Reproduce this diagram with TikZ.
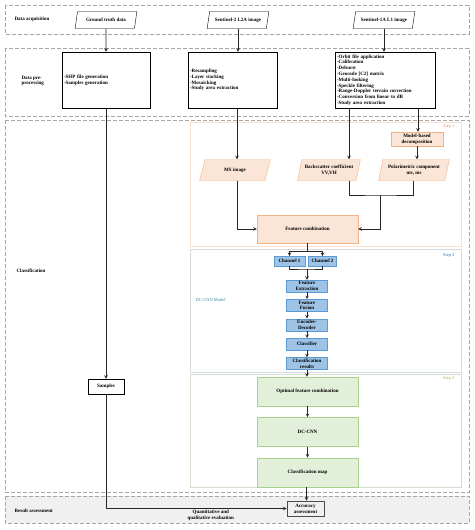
\documentclass[tikz,border=0pt]{standalone}
\usepackage{fontspec}
\setmainfont{Liberation Serif}
\usepackage{xcolor}
\usetikzlibrary{positioning,shapes.geometric}

\definecolor{OrangeFill}{HTML}{FBE5D6}
\definecolor{OrangeLine}{HTML}{F4B183}
\definecolor{OrangeFrame}{HTML}{F8E0D0}
\definecolor{OrangeText}{HTML}{E8956A}
\definecolor{BlueFill}{HTML}{9DC3E6}
\definecolor{BlueLine}{HTML}{5B9BD5}
\definecolor{BlueFrame}{HTML}{D3DAE2}
\definecolor{BlueText}{HTML}{2E75B6}
\definecolor{TealText}{HTML}{3A8FA0}
\definecolor{GreenFill}{HTML}{E2F0D9}
\definecolor{GreenLine}{HTML}{A9D18E}
\definecolor{GreenFrame}{HTML}{D5DFCF}
\definecolor{GreenText}{HTML}{8CBF6A}

\begin{document}
\begin{tikzpicture}[x=1pt,y=-1pt,
	font=\fontsize{5}{5.8}\selectfont\bfseries,
	band/.style={draw=gray!70, dashed, dash pattern=on 4pt off 2pt, line width=0.6pt},
	datain/.style={draw, trapezium, trapezium left angle=72, trapezium right angle=108,
		trapezium stretches=true, minimum width=62, minimum height=17, inner sep=1pt},
	prepbox/.style={draw, align=left, inner xsep=2pt, inner ysep=1pt},
	orangebox/.style={draw=OrangeLine, fill=OrangeFill, align=center, inner sep=1pt},
	orangein/.style={datain, draw=OrangeLine, fill=OrangeFill, align=center,
		minimum width=71, minimum height=21},
	bluebox/.style={draw=BlueLine, fill=BlueFill, align=center, inner sep=0.5pt},
	greenbox/.style={draw=GreenLine, fill=GreenFill, minimum width=101, minimum height=29},
	link/.style={draw=black!85, line width=0.6pt},
	flow/.style={link, -stealth}
]
\useasboundingbox (0,0) rectangle (474,530);

% Bands
\draw[band] (5,5) rectangle (469,34);
\draw[band] (5,48) rectangle (469,116);
\draw[band] (5,120) rectangle (469,492);
\draw[band, fill=gray!12] (5,496) rectangle (469,523);

\node[anchor=west] (acqlabel) at (11,19) {Data acquisition};
\node[anchor=west, align=left] (preplabel) at (18,81) {Data pre-\\processing};
\node[anchor=west] (classlabel) at (13,271) {Classification};
\node[anchor=west] (resultlabel) at (11,511) {Result assessment};

% Step frames
\draw[OrangeFrame, line width=0.6pt] (190,122) rectangle (461,246);
\draw[BlueFrame, line width=0.6pt] (190,249) rectangle (461,372);
\draw[GreenFrame, line width=0.6pt] (190,374) rectangle (461,487);

\node[anchor=east, font=\fontsize{4.5}{5}\selectfont, text=OrangeText] (step1) at (458,126) {Step 1};
\node[anchor=east, font=\fontsize{4.5}{5}\selectfont, text=BlueText] (step2) at (458,255) {Step 2};
\node[anchor=east, font=\fontsize{4.5}{5}\selectfont, text=GreenText] (step3) at (458,378) {Step 3};

% Input data
\node[datain] (gt) at (106,20) {Ground truth data};
\node[datain] (s2) at (238,20) {Sentinel-2 L2A image};
\node[datain] (s1) at (384,20) {Sentinel-1A L1 image};

% Pre-processing boxes
\node[prepbox,
	text width=84,
	minimum height=56
] (shp) at (106,80) {-SHP file generation\\-Samples generation};

\node[prepbox,
	text width=85,
	minimum height=56
] (s2prep) at (232.5,80) {-Resampling\\-Layer stacking\\-Mosaicking\\-Study area extraction};

\node[prepbox,
	text width=96,
	minimum height=56
] (s1prep) at (385,80) {-Orbit file application\\-Calibration\\-Deburst\\-Geocode [C2] matrix\\-Multi-looking\\-Speckle filtering\\-Range-Doppler terrain correction\\-Conversion from linear to dB\\-Study area extraction};

\draw[flow] (gt.south) -- (shp.north);
\draw[flow] (s2.south) -- (s2.south |- s2prep.north);
\draw[flow] (s1.south) -- (s1.south |- s1prep.north);

% Step 1
\node[orangebox,
	minimum width=52,
	minimum height=14
] (model) at (417,139) {Model-based\\decomposition};

\node[orangein] (ms) at (235,170) {MS image};
\node[orangein, minimum width=63] (back) at (329,170) {Backscatter coefficient\\VV,VH};
\node[orangein] (polar) at (414,170) {Polarimetric component\\mv, ms};

\node[orangebox,
	minimum width=101,
	minimum height=28
] (fc) at (307.5,229) {Feature combination};

\draw[flow] ([xshift=4.5pt]s2prep.south) -- ([xshift=4.5pt]s2prep.south |- ms.north);
\draw[flow] ([xshift=-36pt]s1prep.south) -- ([xshift=-36pt]s1prep.south |- back.north);
\draw[flow] ([xshift=33pt]s1prep.south) -- ([xshift=33pt]s1prep.south |- model.north);
\draw[flow] (model.south) -- (model.south |- polar.north);

\coordinate (merge) at (380,195);
\draw[link] ([xshift=20pt]back.south) |- (merge) -| ([xshift=-1pt]polar.south);
\draw[flow] (merge) |- (fc.east);
\draw[flow] ([xshift=2pt]ms.south) |- (fc.west);

% Step 2: DC-CNN model
\node[anchor=west, font=\fontsize{4.5}{5}\selectfont, text=TealText] (dclabel) at (192,300) {DC-CNN Model};

\node[bluebox, minimum width=31, minimum height=9.5] (ch1) at (289.5,261) {Channel 1};
\node[bluebox, minimum width=28, minimum height=9.5] (ch2) at (322.5,261) {Channel 2};

\node[bluebox, minimum width=41, minimum height=12] (fe) at (307,286) {Feature\\Extraction};
\node[bluebox, minimum width=41, minimum height=12, below=7pt of fe] (ff) {Feature\\Fusion};
\node[bluebox, minimum width=41, minimum height=12, below=7pt of ff] (ed) {Encoder-\\Decoder};
\node[bluebox, minimum width=41, minimum height=12, below=7pt of ed] (cl) {Classifier};
\node[bluebox, minimum width=41, minimum height=12, below=7pt of cl] (cr) {Classification\\results};

\draw[link] (fc.south) -- ++(0,8) coordinate (split);
\draw[flow] (split) -| (ch1.north);
\draw[flow] (split) -| (ch2.north);

\coordinate (join) at (307,269);
\draw[link] (ch1.south) |- (join) -| (ch2.south);
\draw[flow] (join) -- (fe.north);
\draw[flow] (fe) -- (ff);
\draw[flow] (ff) -- (ed);
\draw[flow] (ed) -- (cl);
\draw[flow] (cl) -- (cr);

% Step 3
\node[greenbox] (ofc) at (307.5,391.5) {Optimal feature combination};
\node[greenbox, below=11pt of ofc] (dccnn) {DC-CNN};
\node[greenbox, below=11pt of dccnn] (map) {Classification map};

\draw[flow] (cr.south) -- (cr.south |- ofc.north);
\draw[flow] (ofc) -- (dccnn);
\draw[flow] (dccnn) -- (map);

% Samples and assessment
\node[draw, minimum width=36, minimum height=15] (samples) at (106,386.5) {Samples};

\node[draw=black!70,
	line width=0.8pt,
	align=center,
	inner sep=1pt,
	minimum width=37,
	minimum height=15
] (acc) at (305.5,508.5) {Accuracy\\assessment};

\draw[flow] (shp.south) -- (samples.north);
\draw[flow] (samples.south) |- (acc.west)
	node[pos=0.79, below, align=center, inner sep=1.5pt]{Quantitative and\\qualitative evaluation};
\draw[flow] ([xshift=-1pt]map.south) -- ([xshift=-1pt]map.south |- acc.north);

\end{tikzpicture}
\end{document}
